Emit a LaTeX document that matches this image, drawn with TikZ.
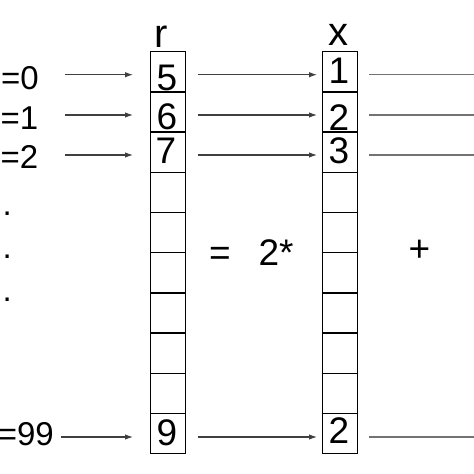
\documentclass[tikz,border=0pt]{standalone}
\usepackage{fontspec}
\setmainfont{Liberation Sans}
\usetikzlibrary{arrows.meta}
\begin{document}
\begin{tikzpicture}[x=1pt,y=-1pt,
  cell/.style={draw=black,line width=1.3pt,minimum width=35pt,minimum height=40.2pt,inner sep=0pt,outer sep=0pt},
  dig/.style={anchor=base,inner sep=0pt,font=\fontsize{37}{40}\selectfont},
  lab/.style={anchor=base east,inner sep=0pt,font=\fontsize{33}{36}\selectfont},
  hdr/.style={anchor=base,inner sep=0pt,font=\fontsize{40}{44}\selectfont},
  arr/.style={draw=black!75,line width=1.1pt,-{Latex[length=8pt,width=5.5pt]}},
  ln/.style={draw=black!55,line width=1.1pt}]
\useasboundingbox (0,0) rectangle (474,474);
% columns
\foreach \i in {1,...,10}{
  \node[cell] (r\i) at (167.8,{51.7+40.2*(\i-0.5)}) {};
  \node[cell] (x\i) at (339.8,{51.7+40.2*(\i-0.5)}) {};
}
% headers
\node[hdr] (hr) at (161,47) {r};
\node[hdr] (hx) at (338,45) {x};
% cell digits
\node[dig] (dr1) at (167,90) {5};
\node[dig] (dr2) at (167,129.5) {6};
\node[dig] (dr3) at (166,163) {7};
\node[dig] (dr10) at (167,445) {9};
\node[dig] (dx1) at (339,83.3) {1};
\node[dig] (dx2) at (339,130) {2};
\node[dig] (dx3) at (339,163) {3};
\node[dig] (dx10) at (339,443.7) {2};
% left labels
\node[lab] (l1) at (39,89) {=0};
\node[lab] (l2) at (38.5,129) {=1};
\node[lab] (l3) at (38.5,168.3) {=2};
\node[lab] (l10) at (54,445) {=99};
\node[lab,anchor=base west] (d1) at (2.4,215) {.};
\node[lab,anchor=base west] (d2) at (2.4,258) {.};
\node[lab,anchor=base west] (d3) at (2.4,301) {.};
% middle symbols
\node[dig] (eq) at (220,265) {=};
\node[dig] (two) at (276,265) {2*};
\node[dig] (plus) at (419.5,261) {+};
% arrow coordinates
\coordinate (a1) at (65,74.7);
\coordinate (a2) at (65,115);
\coordinate (a3) at (65,155);
\coordinate (a10) at (60.7,437);
\coordinate (e1) at (480,74.7);
\coordinate (e2) at (480,115);
\coordinate (e3) at (480,155);
\coordinate (e10) at (480,437);
\foreach \i/\c in {1/r1,2/r2,3/r3,10/r10}{
  \draw[arr,shorten >=17.3pt] (a\i) -- (a\i -| \c.west);
}
\foreach \i/\c/\d in {1/r1/x1,2/r2/x2,3/r3/x3,10/r10/x10}{
  \draw[arr,shorten <=12.4pt,shorten >=5.3pt] (a\i -| \c.east) -- (a\i -| \d.west);
  \draw[ln,shorten <=12pt] (a\i -| \d.east) -- (e\i);
}
\end{tikzpicture}
\end{document}
